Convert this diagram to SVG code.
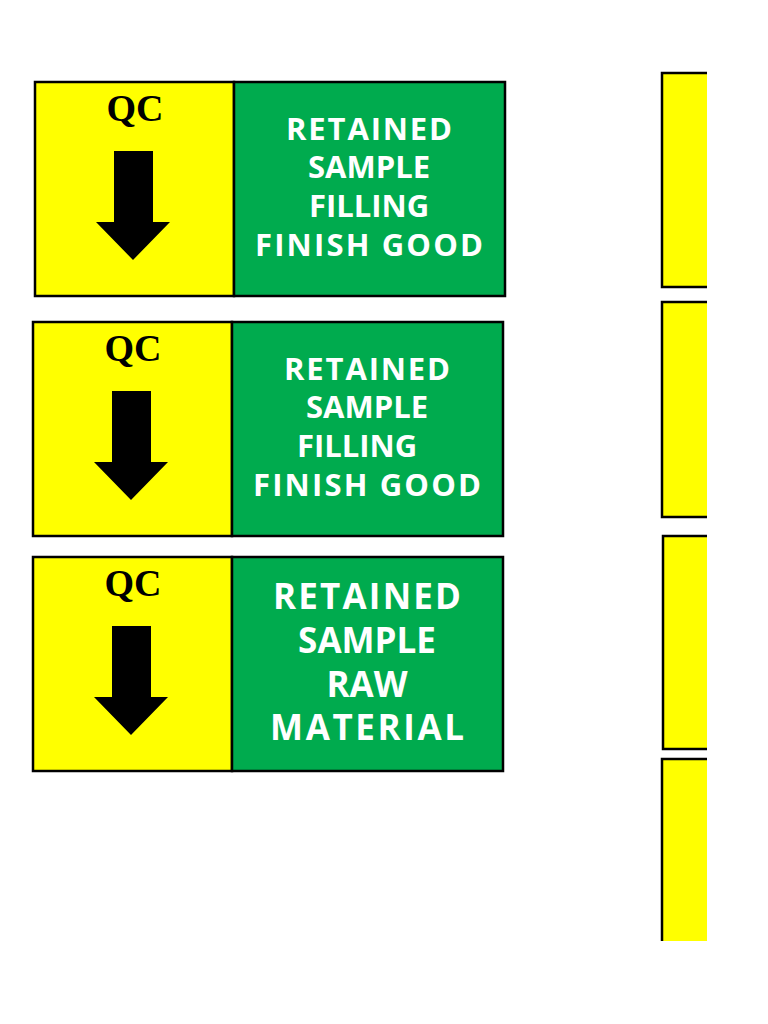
<svg xmlns="http://www.w3.org/2000/svg" width="768" height="1024" viewBox="0 0 768 1024">
<style>
.y{fill:#ffff00;stroke:#000;stroke-width:2.5}
.g{fill:#00ab4e;stroke:#000;stroke-width:2.5}
.qc{font-family:"Liberation Serif",serif;font-weight:bold;font-size:38px;fill:#000;text-anchor:middle}
.t{font-family:"Open Sans","Liberation Sans",sans-serif;font-weight:bold;fill:#fff;text-anchor:middle}
.s{stroke:#000;stroke-width:2.5;fill:none}
</style>
<rect width="768" height="1024" fill="#fff"/>
<g id="sign1">
<rect class="y" x="35" y="82" width="199" height="214"/>
<rect class="g" x="234" y="82" width="271" height="214"/>
<text class="qc" x="135" y="121">QC</text>
<polygon points="114,151 153,151 153,222 170,222 133,260 96,222 114,222"/>
<text class="t" x="369" y="140" font-size="31" textLength="166">RETAINED</text>
<text class="t" x="369" y="178" font-size="31">SAMPLE</text>
<text class="t" x="369" y="217" font-size="31">FILLING</text>
<text class="t" x="369" y="256" font-size="31" textLength="228">FINISH GOOD</text>
</g>
<g id="sign2">
<rect class="y" x="33" y="322" width="199" height="214"/>
<rect class="g" x="232" y="322" width="271" height="214"/>
<text class="qc" x="133" y="361">QC</text>
<polygon points="112,391 151,391 151,462 168,462 131,500 94,462 112,462"/>
<text class="t" x="367" y="380" font-size="31" textLength="166">RETAINED</text>
<text class="t" x="367" y="418" font-size="31">SAMPLE</text>
<text class="t" x="357" y="457" font-size="31">FILLING</text>
<text class="t" x="367" y="496" font-size="31" textLength="228">FINISH GOOD</text>
</g>
<g id="sign3">
<rect class="y" x="33" y="557" width="199" height="214"/>
<rect class="g" x="232" y="557" width="271" height="214"/>
<text class="qc" x="133" y="596">QC</text>
<polygon points="112,626 151,626 151,697 168,697 131,735 94,697 112,697"/>
<text class="t" x="367" y="609" font-size="35" textLength="188">RETAINED</text>
<text class="t" x="367" y="653" font-size="35">SAMPLE</text>
<text class="t" x="367" y="697" font-size="35">RAW</text>
<text class="t" x="367" y="740" font-size="35" textLength="194">MATERIAL</text>
</g>
<g id="strips">
<rect x="662" y="73" width="45" height="214" fill="#ffff00"/>
<path class="s" d="M707,73 H662 V287 H707"/>
<rect x="662" y="302" width="45" height="215" fill="#ffff00"/>
<path class="s" d="M707,302 H662 V517 H707"/>
<rect x="663" y="536" width="44" height="213" fill="#ffff00"/>
<path class="s" d="M707,536 H663 V749 H707"/>
<rect x="662" y="759" width="45" height="182" fill="#ffff00"/>
<path class="s" d="M707,759 H662 V941"/>
</g>
</svg>
